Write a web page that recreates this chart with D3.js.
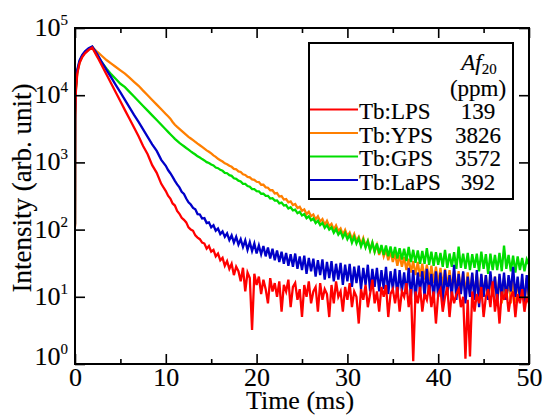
<!DOCTYPE html>
<html>
<head>
<meta charset="utf-8">
<script src="https://cdn.jsdelivr.net/npm/d3@7"></script>
<style>
  body { margin: 0; background: #fff; }
</style>
</head>
<body>
<div id="container"></div>
<script>
// time axis (ms), shared by all four decay curves
const times = [0, 0.02, 0.1, 0.25, 0.5, 0.8, 1.1, 1.5, 1.9,
  2.5, 3, 3.5, 4, 4.5, 5, 5.5, 6, 6.5, 7, 7.5, 8, 8.5, 9, 9.5, 10,
  10.25, 10.5, 10.75, 11, 11.25, 11.5, 11.75, 12, 12.25, 12.5, 12.75, 13, 13.25, 13.5, 13.75, 14,
  14.25, 14.5, 14.75, 15, 15.25, 15.5, 15.75, 16, 16.25, 16.5, 16.75, 17, 17.25, 17.5, 17.75, 18,
  18.25, 18.5, 18.75, 19, 19.25, 19.5, 19.75, 20, 20.25, 20.5, 20.75, 21, 21.25, 21.5, 21.75, 22,
  22.25, 22.5, 22.75, 23, 23.25, 23.5, 23.75, 24, 24.25, 24.5, 24.75, 25, 25.25, 25.5, 25.75, 26,
  26.25, 26.5, 26.75, 27, 27.25, 27.5, 27.75, 28, 28.25, 28.5, 28.75, 29, 29.25, 29.5, 29.75, 30,
  30.25, 30.5, 30.75, 31, 31.25, 31.5, 31.75, 32, 32.25, 32.5, 32.75, 33, 33.25, 33.5, 33.75, 34,
  34.25, 34.5, 34.75, 35, 35.25, 35.5, 35.75, 36, 36.25, 36.5, 36.75, 37, 37.25, 37.5, 37.75, 38,
  38.25, 38.5, 38.75, 39, 39.25, 39.5, 39.75, 40, 40.25, 40.5, 40.75, 41, 41.25, 41.5, 41.75, 42,
  42.25, 42.5, 42.75, 43, 43.25, 43.5, 43.75, 44, 44.25, 44.5, 44.75, 45, 45.25, 45.5, 45.75, 46,
  46.25, 46.5, 46.75, 47, 47.25, 47.5, 47.75, 48, 48.25, 48.5, 48.75, 49, 49.25, 49.5, 49.75, 50];

// intensities (arb. unit)
const lpsValues = [110, 4500, 11500, 21000, 30000, 37000, 42000, 47000, 51000,
  36300, 26900, 20000, 14800, 11000, 8100, 6000, 4470, 3300, 2450, 1750, 1320, 910, 700, 480, 375,
  320, 290, 245, 228, 190, 172, 150, 140, 128, 108, 100, 96, 82, 76, 72, 64,
  62, 52, 57, 47, 50, 40, 44, 35, 38, 29, 34, 26, 31, 21, 28, 24,
  17, 27, 12, 23, 19, 3.2, 22, 15, 20, 11, 18, 13, 8, 19, 12, 16,
  10, 17, 6, 15, 12, 18, 7, 14, 16, 9, 13, 5, 15, 10, 17, 8,
  12, 14, 6, 16, 9, 13, 11, 5, 15, 8, 17, 10, 12, 6, 14, 9,
  16, 7, 12, 10, 4, 13, 9, 15, 7, 11, 18, 8, 12, 6, 14, 10,
  15, 5, 11, 13, 8, 14, 6, 12, 10, 16, 7, 13, 1.1, 12, 8, 14,
  6, 11, 9, 15, 7, 12, 4, 11, 13, 6, 10, 14, 5, 12, 8, 11,
  13, 7, 10, 1.2, 9, 1.3, 12, 6, 11, 8, 14, 5, 10, 13, 7, 17,
  6, 11, 4, 12, 9, 13, 6, 10, 12, 5, 11, 8, 13, 6, 10, 8];

const ypsValues = [112, 5000, 12500, 22000, 31000, 38000, 43000, 48000, 52000,
  43600, 38000, 33100, 29500, 26300, 23400, 20900, 18200, 15800, 13800, 11700, 10000, 8500, 7240, 6170, 5250,
  4850, 4470, 4000, 3630, 3380, 3160, 2950, 2750, 2570, 2400, 2270, 2140, 2020, 1900, 1800, 1700,
  1600, 1510, 1440, 1360, 1270, 1210, 1130, 1080, 1030, 970, 940, 890, 860, 800, 790, 735,
  720, 665, 650, 610, 600, 560, 550, 515, 510, 465, 465, 425, 420, 385, 385, 345,
  350, 310, 315, 280, 285, 255, 262, 232, 240, 210, 218, 190, 200, 170, 185, 158,
  168, 142, 158, 132, 143, 118, 135, 112, 122, 100, 115, 95, 104, 84, 99, 80,
  90, 72, 86, 68, 78, 60, 75, 57, 68, 50, 64, 47, 59, 42, 56, 40,
  50, 35, 48, 33, 44, 29, 42, 28, 39, 25, 37, 23, 34, 21, 33, 20,
  31, 18, 30, 17, 29, 16, 28, 15, 27, 14, 26, 14, 25, 13, 24, 12,
  24, 12, 23, 11, 23, 11, 22, 10, 22, 10, 21, 10, 21, 9, 20, 10,
  20, 9, 20, 8, 19, 9, 19, 8, 19, 8, 18, 9, 18, 8, 19, 8];

const gpsValues = [118, 5100, 12800, 22500, 31500, 38500, 43500, 48500, 52500,
  38000, 30200, 24500, 20400, 17400, 14800, 13200, 11200, 9550, 8130, 6920, 5890, 5010, 4270, 3630, 3090,
  2850, 2630, 2430, 2240, 2090, 1950, 1840, 1740, 1640, 1550, 1460, 1380, 1310, 1230, 1180, 1120,
  1070, 1010, 980, 930, 900, 840, 820, 775, 750, 700, 690, 645, 630, 580, 570, 535,
  520, 480, 478, 445, 435, 400, 400, 375, 372, 342, 343, 318, 318, 290, 293, 270,
  272, 246, 252, 228, 232, 206, 215, 193, 198, 175, 184, 162, 170, 148, 158, 138,
  146, 125, 136, 117, 126, 106, 117, 100, 108, 90, 102, 84, 94, 76, 89, 72,
  83, 64, 78, 62, 74, 56, 70, 54, 67, 49, 64, 47, 62, 44, 59, 42,
  58, 40, 56, 38, 55, 37, 53, 36, 52, 34, 55, 33, 50, 32, 49, 31,
  48, 31, 53, 30, 47, 29, 46, 30, 45, 28, 50, 27, 44, 28, 46, 26,
  56, 27, 44, 26, 45, 25, 43, 27, 44, 24, 47, 26, 43, 22, 44, 25,
  42, 25, 45, 24, 58, 26, 42, 24, 41, 23, 40, 25, 38, 24, 36, 30];

const lapsValues = [120, 5600, 14000, 24000, 33000, 40000, 45000, 50000, 53000,
  39800, 30200, 23400, 18200, 14100, 11000, 8500, 6600, 5100, 4000, 3100, 2400, 1860, 1480, 1090, 890,
  770, 690, 610, 530, 470, 425, 365, 340, 290, 255, 236, 210, 200, 170, 168, 146,
  148, 125, 128, 108, 116, 96, 104, 86, 94, 78, 88, 70, 82, 64, 78, 60,
  72, 55, 69, 50, 65, 48, 62, 44, 58, 43, 57, 40, 54, 37, 52, 35,
  49, 33, 47, 31, 45, 29, 43, 28, 44, 26, 40, 25, 41, 22, 38, 24,
  37, 20, 35, 21, 36, 18, 33, 19, 34, 17, 31, 18, 32, 15, 30, 17,
  31, 14, 28, 16, 29, 13, 27, 15, 30, 12, 26, 14, 27, 12, 25, 13,
  28, 11, 24, 13, 26, 10, 25, 12, 23, 11, 27, 10, 25, 9, 23, 12,
  24, 10, 26, 11, 22, 9, 24, 10, 23, 8, 25, 11, 21, 10, 30, 9,
  22, 11, 24, 8, 20, 10, 23, 9, 25, 7, 22, 10, 21, 9, 24, 11,
  20, 8, 22, 10, 23, 9, 21, 12, 28, 10, 20, 9, 22, 8, 21, 10];

const seriesNames = ["Tb:LPS", "Tb:YPS", "Tb:GPS", "Tb:LaPS"];
const af20Values = ["139", "3826", "3572", "392"];

const xTicks = [0, 10, 20, 30, 40, 50];
const xMinorTicks = [5, 15, 25, 35, 45];
const yTicks = [1, 10, 100, 1000, 10000, 100000];
const yExponents = ["0", "1", "2", "3", "4", "5"];

const palette = {
  "Tb:LPS": "#ff0000",
  "Tb:YPS": "#ff7f00",
  "Tb:GPS": "#00dd00",
  "Tb:LaPS": "#0000c8"
};

const width = 550, height = 419;
const marginLeft = 75, marginRight = 21, marginTop = 28, marginBottom = 55;

const x = d3.scaleLinear()
    .domain([0, 50])
    .range([marginLeft, width - marginRight]);

const y = d3.scaleLog()
    .domain([1, 1e5])
    .range([height - marginBottom, marginTop]);

const svg = d3.select("#container").append("svg")
    .attr("width", width)
    .attr("height", height)
    .attr("viewBox", [0, 0, width, height]);

svg.append("clipPath").attr("id", "plot")
  .append("rect")
    .attr("x", marginLeft).attr("y", marginTop)
    .attr("width", width - marginLeft - marginRight)
    .attr("height", height - marginTop - marginBottom);

// drawing order: YPS, GPS, LaPS, then LPS on top
const series = [
  {name: "Tb:YPS", values: ypsValues},
  {name: "Tb:GPS", values: gpsValues},
  {name: "Tb:LaPS", values: lapsValues},
  {name: "Tb:LPS", values: lpsValues}
];

const line = d3.line()
    .x((d, i) => x(times[i]))
    .y(d => y(d));

svg.append("g")
    .attr("clip-path", "url(#plot)")
  .selectAll("path")
  .data(series)
  .join("path")
    .attr("fill", "none")
    .attr("stroke", d => palette[d.name])
    .attr("stroke-width", 2.3)
    .attr("d", d => line(d.values));

// axes, ticks pointing inward
const styleAxis = g => {
  g.select(".domain").remove();
  g.selectAll(".tick line").attr("stroke", "#000").attr("stroke-width", 1.6);
};

svg.append("g")
    .attr("transform", `translate(0,${height - marginBottom})`)
    .call(d3.axisBottom(x).tickValues(xTicks).tickSizeInner(-10).tickSizeOuter(0).tickPadding(4))
    .call(styleAxis)
    .call(g => g.selectAll(".tick text")
        .attr("font-size", 26)
        .attr("fill", "#000"));

svg.append("g")
    .attr("transform", `translate(0,${height - marginBottom})`)
    .call(d3.axisBottom(x).tickValues(xMinorTicks).tickSizeInner(-5).tickSizeOuter(0).tickFormat(""))
    .call(styleAxis);

svg.append("g")
    .attr("transform", `translate(0,${marginTop})`)
    .call(d3.axisTop(x).tickValues(xTicks).tickSizeInner(-10).tickSizeOuter(0).tickFormat(""))
    .call(styleAxis);

svg.append("g")
    .attr("transform", `translate(0,${marginTop})`)
    .call(d3.axisTop(x).tickValues(xMinorTicks).tickSizeInner(-5).tickSizeOuter(0).tickFormat(""))
    .call(styleAxis);

svg.append("g")
    .attr("transform", `translate(${marginLeft},0)`)
    .call(d3.axisLeft(y).tickValues(yTicks).tickSizeInner(-10).tickSizeOuter(0).tickFormat(""))
    .call(styleAxis);

svg.append("g")
    .attr("transform", `translate(${width - marginRight},0)`)
    .call(d3.axisRight(y).tickValues(yTicks).tickSizeInner(-10).tickSizeOuter(0).tickFormat(""))
    .call(styleAxis);

// y tick labels 10^n
const yLabels = svg.append("g").selectAll("text")
  .data(yTicks)
  .join("text")
    .attr("x", marginLeft - 7)
    .attr("y", (d, i) => y(d) + (i === 0 ? 1 : 8))
    .attr("text-anchor", "end")
    .attr("font-size", 26);
yLabels.append("tspan").text("10");
yLabels.append("tspan")
    .attr("font-size", 15)
    .attr("dy", -11)
    .text((d, i) => yExponents[i]);

// frame
svg.append("rect")
    .attr("x", marginLeft).attr("y", marginTop)
    .attr("width", width - marginLeft - marginRight)
    .attr("height", height - marginTop - marginBottom)
    .attr("fill", "none")
    .attr("stroke", "#000")
    .attr("stroke-width", 2);

// axis titles
svg.append("text")
    .attr("x", 300)
    .attr("y", 409)
    .attr("text-anchor", "middle")
    .attr("font-size", 26)
    .text("Time (ms)");

svg.append("text")
    .attr("transform", "translate(31,188) rotate(-90)")
    .attr("text-anchor", "middle")
    .attr("font-size", 27)
    .text("Intensity (arb. unit)");

// legend
const legend = svg.append("g");
legend.append("rect")
    .attr("x", 309).attr("y", 43)
    .attr("width", 204).attr("height", 156)
    .attr("fill", "#fff")
    .attr("stroke", "#000")
    .attr("stroke-width", 2);

const head = legend.append("text")
    .attr("x", 479).attr("y", 70)
    .attr("text-anchor", "middle")
    .attr("font-size", 23);
head.append("tspan").attr("font-style", "italic").text("Af");
head.append("tspan").attr("font-size", 15).attr("dy", 4).text("20");

legend.append("text")
    .attr("x", 478).attr("y", 96)
    .attr("text-anchor", "middle")
    .attr("font-size", 23)
    .text("(ppm)");

const rows = legend.selectAll("g.row")
  .data(seriesNames)
  .join("g")
    .attr("class", "row")
    .attr("transform", (d, i) => `translate(0,${119 + i * 23.5})`);

rows.append("line")
    .attr("x1", 310).attr("x2", 358)
    .attr("y1", -9.5).attr("y2", -9.5)
    .attr("stroke", d => palette[d])
    .attr("stroke-width", 2);

rows.append("text")
    .attr("x", 359)
    .attr("font-size", 23)
    .text(d => d);

rows.append("text")
    .attr("x", 478)
    .attr("text-anchor", "middle")
    .attr("font-size", 23)
    .text((d, i) => af20Values[i]);

// serif face everywhere, a touch heavier like the printed figure
svg.selectAll("text")
    .style("font-family", "Liberation Serif")
    .style("fill", "#000")
    .style("stroke", "#000")
    .style("stroke-width", 0.15);
</script>
</body>
</html>
